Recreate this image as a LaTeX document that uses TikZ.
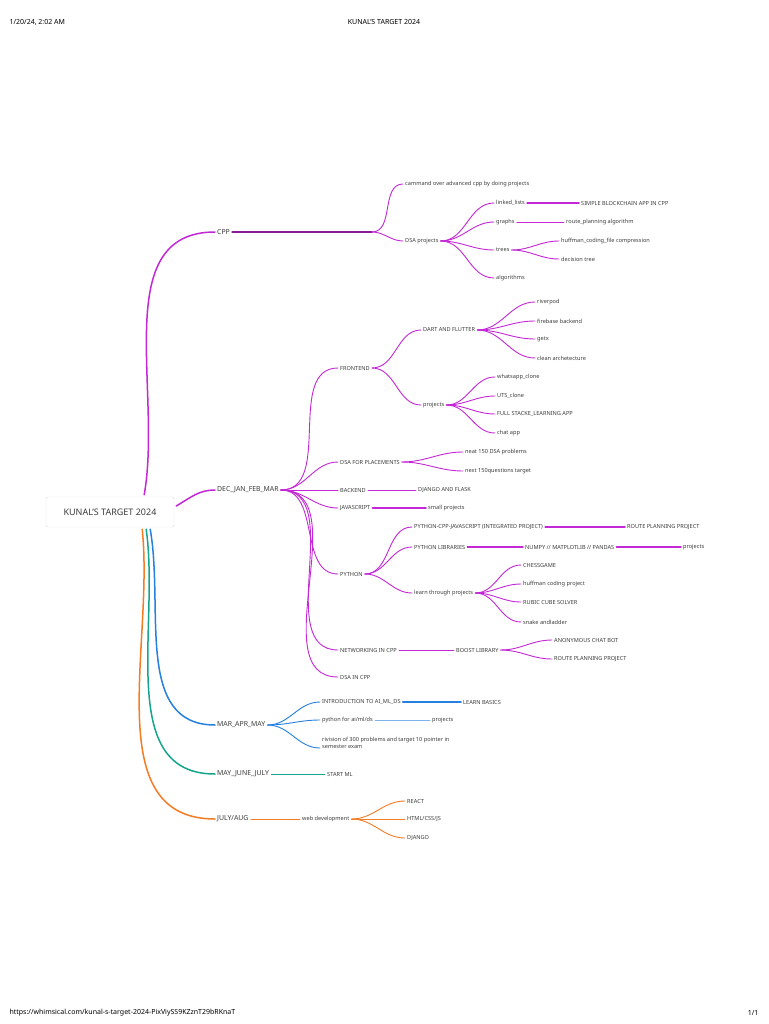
\documentclass[tikz,border=0pt]{standalone}
\usepackage{fontspec}
\setmainfont{Noto Sans}
\definecolor{mpurple}{RGB}{196,40,214}
\definecolor{mblue}{RGB}{38,128,224}
\definecolor{mteal}{RGB}{20,166,140}
\definecolor{morange}{RGB}{244,124,36}
\definecolor{mgray}{RGB}{60,60,60}
\tikzset{
  leaf/.style={anchor=west, inner sep=2pt, text=mgray, font=\fontsize{5.6}{6.8}\selectfont},
  main/.style={anchor=west, inner sep=2pt, text=mgray, font=\fontsize{6.9}{8}\selectfont},
  link/.style={line width=0.9pt, line cap=round},
  stem/.style={line width=1.5pt, line cap=round},
}
\begin{document}
\begin{tikzpicture}[x=1pt, y=-1pt]
    \useasboundingbox (0,0) rectangle (768,1024);
    \fill[white] (0,0) rectangle (768,1024);

    % page header and footer
    \node[anchor=west, font=\fontsize{7}{8}\selectfont] (date) at (6,22) {1/20/24, 2:02 AM};
    \node[font=\fontsize{7}{8}\selectfont] (title) at (384,22) {KUNAL'S TARGET 2024};
    \node[anchor=west, font=\fontsize{7}{8}\selectfont] (url) at (6,1013) {https://whimsical.com/kunal-s-target-2024-PixViySS9KZznT29bRKnaT};
    \node[anchor=east, font=\fontsize{7}{8}\selectfont] (page) at (762,1013) {1/1};

    % root
    \node[draw=black!12, rounded corners=2pt, minimum width=128pt, minimum height=30pt, text=mgray, font=\fontsize{9}{10}\selectfont] (root) at (110,512) {KUNAL'S TARGET 2024};

    % CPP
    \node[main] (cpp) at (215,232) {CPP};
    \coordinate (cppfork) at (372,232);
    \node[leaf] (command) at (403,184) {cammand over advanced cpp by doing projects};
    \node[leaf] (dsaproj) at (403,241) {DSA  projects};
    \node[leaf] (linked) at (494,203) {linked\_lists};
    \node[leaf] (graphs) at (494,222) {graphs};
    \node[leaf] (trees) at (494,250) {trees};
    \node[leaf] (algo) at (494,278) {algorithms};
    \node[leaf] (chain) at (579,203) {SIMPLE BLOCKCHAIN APP IN CPP};
    \node[leaf] (route) at (564,222) {route\_planning algorithm};
    \node[leaf] (huff) at (559,241) {huffman\_coding\_file compression};
    \node[leaf] (dtree) at (559,259) {decision tree};

    % DEC_JAN_FEB_MAR
    \node[main] (dec) at (215,490) {DEC\_JAN\_FEB\_MAR};
    \node[leaf] (front) at (338,368) {FRONTEND};
    \node[leaf] (dart) at (421,330) {DART AND FLUTTER};
    \node[leaf] (river) at (535,302) {riverpod};
    \node[leaf] (fire) at (535,321) {firebase backend};
    \node[leaf] (getx) at (535,339) {getx};
    \node[leaf] (clean) at (535,358) {clean archetecture};
    \node[leaf] (fproj) at (421,405) {projects};
    \node[leaf] (whats) at (495,377) {whatsapp\_clone};
    \node[leaf] (uts) at (495,396) {UTS\_clone};
    \node[leaf] (full) at (495,414) {FULL STACKE\_LEARNING APP};
    \node[leaf] (chat) at (495,433) {chat app};
    \node[leaf] (dsapl) at (338,462) {DSA FOR PLACEMENTS};
    \node[leaf] (neat) at (463,452) {neat 150 DSA problems};
    \node[leaf] (next) at (463,471) {next 150questions  target};
    \node[leaf] (back) at (338,490) {BACKEND};
    \node[leaf] (django) at (416,490) {DJANGO AND FLASK};
    \node[leaf] (js) at (338,508) {JAVASCRIPT};
    \node[leaf] (small) at (426,508) {small projects};
    \node[leaf] (python) at (338,574) {PYTHON};
    \node[leaf] (integ) at (412,527) {PYTHON-CPP-JAVASCRIPT  (INTEGRATED PROJECT)};
    \node[leaf] (rpp) at (625,527) {ROUTE PLANNING  PROJECT};
    \node[leaf] (pylib) at (412,547) {PYTHON LIBRARIES};
    \node[leaf] (numpy) at (523,547) {NUMPY // MATPLOTLIB // PANDAS};
    \node[leaf] (nproj) at (681,547) {projects};
    \node[leaf] (learn) at (412,593) {learn through projects};
    \node[leaf] (chess) at (521,565) {CHESSGAME};
    \node[leaf] (hcp) at (521,584) {huffman coding project};
    \node[leaf] (rubic) at (521,602) {RUBIC CUBE SOLVER};
    \node[leaf] (snake) at (521,622) {snake andladder};
    \node[leaf] (net) at (338,650) {NETWORKING IN CPP};
    \node[leaf] (boost) at (454,650) {BOOST LIBRARY};
    \node[leaf] (anon) at (552,640) {ANONYMOUS CHAT BOT};
    \node[leaf] (rpp2) at (552,659) {ROUTE PLANNING PROJECT};
    \node[leaf] (dsacpp) at (338,677) {DSA IN CPP};

    % MAR_APR_MAY
    \node[main] (mar) at (215,725) {MAR\_APR\_MAY};
    \node[leaf] (intro) at (320,702) {INTRODUCTION TO AI\_ML\_DS};
    \node[leaf] (basics) at (461,702) {LEARN BASICS};
    \node[leaf] (pyai) at (320,720) {python for ai/ml/ds};
    \node[leaf] (aiproj) at (430,720) {projects};
    \node[leaf, align=left] (rev) at (320,743) {rivision of 300 problems and target 10 pointer in\\semester exam};

    % MAY_JUNE_JULY
    \node[main] (may) at (215,774) {MAY\_JUNE\_JULY};
    \node[leaf] (ml) at (325,774) {START ML};

    % JULY/AUG
    \node[main] (july) at (215,819) {JULY/AUG};
    \node[leaf] (web) at (300,819) {web development};
    \node[leaf] (react) at (405,801) {REACT};
    \node[leaf] (html) at (405,819) {HTML/CSS/JS};
    \node[leaf] (djg) at (405,838) {DJANGO};

    % root branches
    \draw[stem, mpurple] (root.north east) ++(-30,-2) to[out=80,in=180] (cpp.west);
    \draw[stem, mpurple] (root.east) ++(2,-6) to[out=30,in=180] (dec.west);
    \draw[stem, mblue] (root.south east) ++(-24,2) to[out=-80,in=180] (mar.west);
    \draw[stem, mteal] (root.south east) ++(-28,2) to[out=-82,in=180] (may.west);
    \draw[stem, morange] (root.south east) ++(-32,2) to[out=-84,in=180] (july.west);

    % CPP branches
    \draw[stem, mpurple!70!black] (cpp.east) -- (cppfork);
    \draw[link, mpurple] (cppfork) to[out=0,in=180] (command.west);
    \draw[link, mpurple] (cppfork) to[out=0,in=180] (dsaproj.west);
    \draw[link, mpurple] (dsaproj.east) to[out=0,in=180] (linked.west);
    \draw[link, mpurple] (dsaproj.east) to[out=0,in=180] (graphs.west);
    \draw[link, mpurple] (dsaproj.east) to[out=0,in=180] (trees.west);
    \draw[link, mpurple] (dsaproj.east) to[out=0,in=180] (algo.west);
    \draw[stem, mpurple] (linked.east) -- (chain.west);
    \draw[link, mpurple, line width=0.6pt] (graphs.east) -- (route.west);
    \draw[link, mpurple] (trees.east) to[out=0,in=180] (huff.west);
    \draw[link, mpurple] (trees.east) to[out=0,in=180] (dtree.west);

    % DEC branches
    \draw[link, mpurple] (dec.east) to[out=0,in=180] (front.west);
    \draw[link, mpurple] (dec.east) to[out=0,in=180] (dsapl.west);
    \draw[link, mpurple] (dec.east) -- (back.west);
    \draw[link, mpurple] (dec.east) to[out=0,in=180] (js.west);
    \draw[link, mpurple] (dec.east) to[out=0,in=180] (python.west);
    \draw[link, mpurple] (dec.east) to[out=0,in=180] (net.west);
    \draw[link, mpurple] (dec.east) to[out=0,in=180] (dsacpp.west);
    \draw[link, mpurple] (front.east) to[out=0,in=180] (dart.west);
    \draw[link, mpurple] (front.east) to[out=0,in=180] (fproj.west);
    \draw[link, mpurple] (dart.east) to[out=0,in=180] (river.west);
    \draw[link, mpurple] (dart.east) to[out=0,in=180] (fire.west);
    \draw[link, mpurple] (dart.east) to[out=0,in=180] (getx.west);
    \draw[link, mpurple] (dart.east) to[out=0,in=180] (clean.west);
    \draw[link, mpurple] (fproj.east) to[out=0,in=180] (whats.west);
    \draw[link, mpurple] (fproj.east) to[out=0,in=180] (uts.west);
    \draw[link, mpurple] (fproj.east) to[out=0,in=180] (full.west);
    \draw[link, mpurple] (fproj.east) to[out=0,in=180] (chat.west);
    \draw[link, mpurple] (dsapl.east) to[out=0,in=180] (neat.west);
    \draw[link, mpurple] (dsapl.east) to[out=0,in=180] (next.west);
    \draw[link, mpurple, line width=0.6pt] (back.east) -- (django.west);
    \draw[stem, mpurple] (js.east) -- (small.west);
    \draw[link, mpurple] (python.east) to[out=0,in=180] (integ.west);
    \draw[link, mpurple] (python.east) to[out=0,in=180] (pylib.west);
    \draw[link, mpurple] (python.east) to[out=0,in=180] (learn.west);
    \draw[stem, mpurple] (integ.east) -- (rpp.west);
    \draw[stem, mpurple] (pylib.east) -- (numpy.west);
    \draw[stem, mpurple] (numpy.east) -- (nproj.west);
    \draw[link, mpurple] (learn.east) to[out=0,in=180] (chess.west);
    \draw[link, mpurple] (learn.east) to[out=0,in=180] (hcp.west);
    \draw[link, mpurple] (learn.east) to[out=0,in=180] (rubic.west);
    \draw[link, mpurple] (learn.east) to[out=0,in=180] (snake.west);
    \draw[link, mpurple, line width=0.6pt] (net.east) -- (boost.west);
    \draw[link, mpurple] (boost.east) to[out=0,in=180] (anon.west);
    \draw[link, mpurple] (boost.east) to[out=0,in=180] (rpp2.west);

    % MAR branches
    \draw[link, mblue] (mar.east) to[out=0,in=180] (intro.west);
    \draw[link, mblue] (mar.east) to[out=0,in=180] (pyai.west);
    \draw[link, mblue] (mar.east) to[out=0,in=180] ([yshift=-5]rev.west);
    \draw[stem, mblue] (intro.east) -- (basics.west);
    \draw[link, mblue!60, line width=0.6pt] (pyai.east) -- (aiproj.west);

    % MAY and JULY branches
    \draw[link, mteal] (may.east) -- (ml.west);
    \draw[link, morange, line width=0.6pt] (july.east) -- (web.west);
    \draw[link, morange] (web.east) to[out=0,in=180] (react.west);
    \draw[link, morange] (web.east) -- (html.west);
    \draw[link, morange] (web.east) to[out=0,in=180] (djg.west);
\end{tikzpicture}
\end{document}
